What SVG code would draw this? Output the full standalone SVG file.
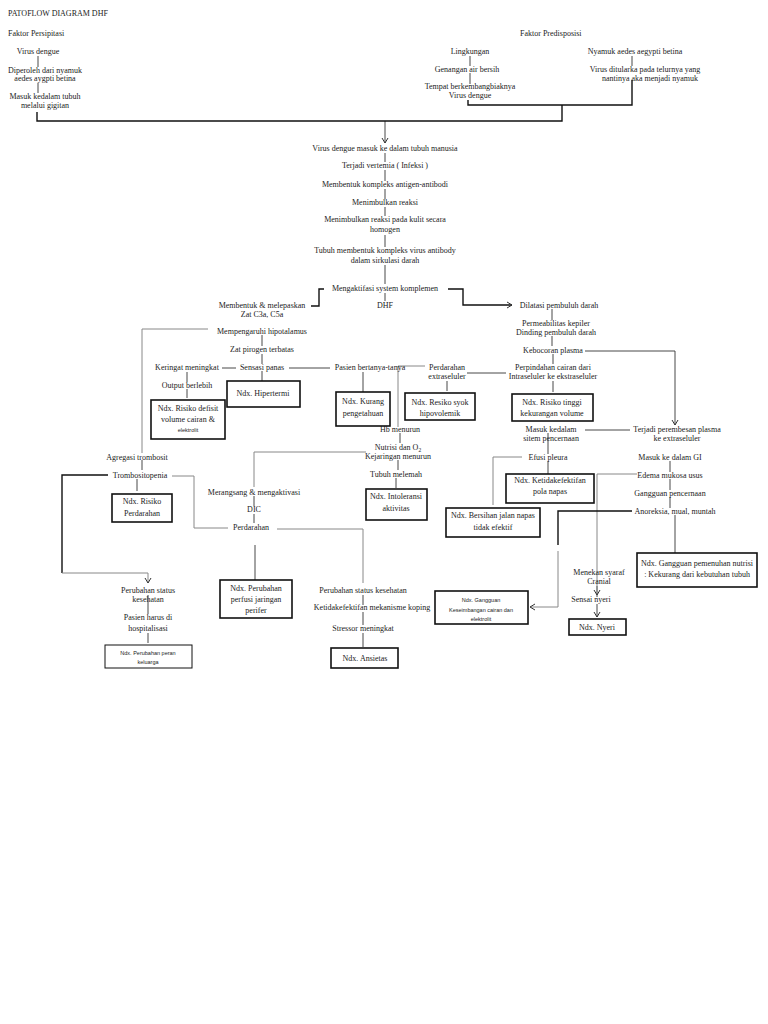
<svg xmlns="http://www.w3.org/2000/svg" width="768" height="1024" viewBox="0 0 768 1024">
<style>
text{font-family:"Liberation Serif",serif;font-size:8px;fill:#222;text-anchor:middle}
.l{text-anchor:start}
.s{font-family:"Liberation Sans",sans-serif;font-size:5.5px}
.b{fill:#fff;stroke:#111;stroke-width:1.6}
.c{fill:none;stroke:#333;stroke-width:0.9}
.g{fill:none;stroke:#888;stroke-width:1}
.k{fill:none;stroke:#111;stroke-width:1.4}
</style>
<defs><marker id="a" markerWidth="8" markerHeight="8" refX="6" refY="4" orient="auto" markerUnits="userSpaceOnUse"><path d="M1,1 L6,4 L1,7" fill="none" stroke="#333" stroke-width="1"/></marker></defs>
<rect width="768" height="1024" fill="#fff"/>
<g id="connectors">
<path class="c" marker-end="url(#a)" d="M38,56V67M38,83V93M470,56V66M470,73V84M632,56V66M385,121V143"/>
<path class="k" d="M37,112V121H562V105M468,100V105H632V80"/>
<path class="c" marker-end="url(#a)" d="M385,153V162M385,170V181M385,189V199M385,207V216M385,235V247M385,265V284M385,293V301M552,309V320M552,336V346M553,354V364M553,381V392M447,381V391M363,372V392M262,335V346M262,354V364M262,371V385M187,372V382M187,389V398M142,460V470M137,479V491M400,433V443M398,460V470M396,478V488M254,496V506M254,514V523M255,545V580M363,595V605M363,612V625M363,633V647M148,595V614M148,633V643M548,433V454M548,461V474M670,461V472M670,479V490M670,497V508M597,586V597M597,604V617"/>
<path class="k" marker-end="url(#a)" d="M324,289H319V306H311M448,289H463V305H512"/>
<path class="c" marker-end="url(#a)" d="M236,368H222M289,368H330M506,373H467M630,430H585M675,515V553M585,351H675V425"/>
<path class="g" marker-end="url(#a)" d="M208,329H142V453M398,366H425M398,366V427M366,452H254V487M172,476H194V528H228M277,529H363V583M522,457H493V505M637,474H597V595"/>
<path class="k" d="M108,475H62V573"/>
<path class="g" marker-end="url(#a)" d="M62,573H148V583"/>
<path class="k" d="M632,511H558V545"/>
<path class="g" marker-end="url(#a)" d="M558,551V607H530"/>
</g>
<g id="texts">
<text class="l" x="8" y="16">PATOFLOW DIAGRAM DHF</text>
<text class="l" x="8" y="36">Faktor Persipitasi</text>
<text class="l" x="520" y="36">Faktor Predisposisi</text>
<g id="n1"><text x="38" y="54">Virus dengue</text></g>
<g id="n2"><text x="45" y="73">Diperoleh dari nyamuk</text><text x="45" y="81">aedes aygpti betina</text></g>
<g id="n3"><text x="45" y="99">Masuk kedalam tubuh</text><text x="45" y="108">melalui gigitan</text></g>
<g id="n4"><text x="470" y="54">Lingkungan</text></g>
<g id="n5"><text x="467" y="72">Genangan air bersih</text></g>
<g id="n6"><text x="470" y="89">Tempat berkembangbiaknya</text><text x="470" y="98">Virus dengue</text></g>
<g id="n7"><text x="635" y="54">Nyamuk aedes aegypti betina</text></g>
<g id="n8"><text x="645" y="72">Virus ditularka pada telurnya yang</text><text x="650" y="81">nantinya aka menjadi nyamuk</text></g>
<g id="n9"><text x="385" y="151">Virus dengue masuk ke dalam tubuh manusia</text></g>
<g id="n10"><text x="385" y="168">Terjadi vertemia ( Infeksi )</text></g>
<g id="n11"><text x="385" y="187">Membentuk kompleks antigen-antibodi</text></g>
<g id="n12"><text x="385" y="205">Menimbulkan reaksi</text></g>
<g id="n13"><text x="385" y="222">Menimbulkan reaksi pada kulit secara</text><text x="385" y="232">homogen</text></g>
<g id="n14"><text x="385" y="253">Tubuh membentuk kompleks virus antibody</text><text x="385" y="263">dalam sirkulasi darah</text></g>
<g id="n15"><text x="385" y="291">Mengaktifasi system komplemen</text></g>
<g id="n16"><text x="385" y="308">DHF</text></g>
<g id="n17"><text x="262" y="308">Membentuk  &amp;  melepaskan</text><text x="262" y="317">Zat C3a, C5a</text></g>
<g id="n18"><text x="559" y="308">Dilatasi pembuluh darah</text></g>
<g id="n19"><text x="556" y="326">Permeabilitas kepiler</text><text x="556" y="335">Dinding pembuluh darah</text></g>
<g id="n20"><text x="262" y="334">Mempengaruhi hipotalamus</text></g>
<g id="n21"><text x="262" y="352">Zat pirogen terbatas</text></g>
<g id="n22"><text x="262" y="370">Sensasi panas</text></g>
<g id="n23"><text x="187" y="370">Keringat meningkat</text></g>
<g id="n24"><text x="187" y="388">Output berlebih</text></g>
<g id="n25"><text x="370" y="370">Pasien bertanya-tanya</text></g>
<g id="n26"><text x="553" y="353">Kebocoran plasma</text></g>
<g id="n27"><text x="447" y="370">Perdarahan</text><text x="447" y="379">extraseluler</text></g>
<g id="n28"><text x="553" y="370">Perpindahan cairan dari</text><text x="553" y="379">Intraseluler ke ekstraseluler</text></g>
<g id="n29"><rect class="b" x="151" y="400" width="74" height="39"/><text x="188" y="411">Ndx. Risiko defisit</text><text x="188" y="422">volume cairan &amp;</text><text class="s" x="188" y="432">elektrolit</text></g>
<g id="n30"><rect class="b" x="227" y="381" width="73" height="26"/><text x="263" y="396">Ndx. Hipertermi</text></g>
<g id="n31"><rect class="b" x="336" y="392" width="54" height="34"/><text x="363" y="404">Ndx. Kurang</text><text x="363" y="416">pengetahuan</text></g>
<g id="n32"><rect class="b" x="405" y="393" width="70" height="27"/><text x="440" y="405">Ndx. Resiko syok</text><text x="440" y="416">hipovolemik</text></g>
<g id="n33"><rect class="b" x="512" y="394" width="81" height="27"/><text x="552" y="405">Ndx. Risiko tinggi</text><text x="552" y="416">kekurangan volume</text></g>
<g id="n34"><text x="400" y="432">Hb menurun</text></g>
<g id="n35"><text x="398" y="450">Nutrisi dan O<tspan font-size="5.5" dy="2">2</tspan></text><text x="398" y="459">Kejaringan menurun</text></g>
<g id="n36"><text x="396" y="477">Tubuh melemah</text></g>
<g id="n37"><rect class="b" x="366" y="489" width="61" height="31"/><text x="396" y="499">Ndx. Intoleransi</text><text x="396" y="511">aktivitas</text></g>
<g id="n38"><text x="551" y="432">Masuk kedalam</text><text x="551" y="441">sitem pencernaan</text></g>
<g id="n39"><text x="677" y="432">Terjadi perembesan plasma</text><text x="677" y="441">ke extraseluler</text></g>
<g id="n40"><text x="137" y="460">Agregasi trombosit</text></g>
<g id="n41"><text x="140" y="478">Trombositopenia</text></g>
<g id="n42"><rect class="b" x="112" y="494" width="60" height="28"/><text x="142" y="504">Ndx. Risiko</text><text x="142" y="516">Perdarahan</text></g>
<g id="n43"><text x="254" y="495">Merangsang &amp; mengaktivasi</text></g>
<g id="n44"><text x="254" y="512">DIC</text></g>
<g id="n45"><text x="251" y="530">Perdarahan</text></g>
<g id="n46"><text x="548" y="460">Efusi pleura</text></g>
<g id="n47"><rect class="b" x="506" y="474" width="88" height="29"/><text x="550" y="483">Ndx. Ketidakefektifan</text><text x="550" y="494">pola napas</text></g>
<g id="n48"><rect class="b" x="446" y="508" width="94" height="29"/><text x="493" y="518">Ndx. Bersihan jalan napas</text><text x="493" y="530">tidak efektif</text></g>
<g id="n49"><text x="670" y="460">Masuk ke dalam GI</text></g>
<g id="n50"><text x="670" y="478">Edema mukosa usus</text></g>
<g id="n51"><text x="670" y="496">Gangguan pencernaan</text></g>
<g id="n52"><text x="675" y="514">Anoreksia, mual, muntah</text></g>
<g id="n53"><rect class="b" x="637" y="553" width="120" height="34"/><text x="697" y="566">Ndx. Gangguan pemenuhan nutrisi</text><text x="697" y="577">: Kekurang dari kebutuhan tubuh</text></g>
<g id="n54"><text x="599" y="575">Menekan syaraf</text><text x="599" y="584">Cranial</text></g>
<g id="n55"><text x="591" y="602">Sensai nyeri</text></g>
<g id="n56"><rect class="b" x="569" y="619" width="57" height="16"/><text x="597" y="630">Ndx. Nyeri</text></g>
<g id="n57"><rect class="b" x="435" y="591" width="93" height="33"/><text class="s" x="481" y="602">Ndx. Gangguan</text><text class="s" x="481" y="612">Keseimbangan cairan dan</text><text class="s" x="481" y="621">elektrolit</text></g>
<g id="n58"><rect class="b" x="220" y="580" width="72" height="38"/><text x="256" y="591">Ndx. Perubahan</text><text x="256" y="602">perfusi jaringan</text><text x="256" y="613">perifer</text></g>
<g id="n59"><text x="148" y="593">Perubahan status</text><text x="148" y="602">kesehatan</text></g>
<g id="n60"><text x="148" y="620">Pasien harus di</text><text x="148" y="631">hospitalisasi</text></g>
<g id="n61"><rect fill="#fff" stroke="#111" stroke-width="1" x="105" y="645" width="87" height="23"/><text class="s" x="148" y="655">Ndx. Perubahan peran</text><text class="s" x="148" y="664">keluarga</text></g>
<g id="n62"><text x="363" y="593">Perubahan status kesehatan</text></g>
<g id="n63"><text x="372" y="610">Ketidakefektifan mekanisme koping</text></g>
<g id="n64"><text x="363" y="631">Stressor meningkat</text></g>
<g id="n65"><rect class="b" x="331" y="648" width="67" height="20"/><text x="365" y="661">Ndx. Ansietas</text></g>
</g>
</svg>
